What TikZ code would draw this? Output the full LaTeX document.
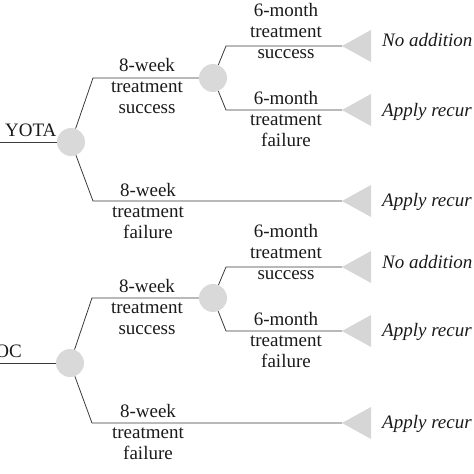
\documentclass[tikz,border=0pt]{standalone}
\usepackage{fontspec}
\setmainfont{Liberation Serif}
\definecolor{linec}{HTML}{3A3A3A}
\definecolor{nodefill}{HTML}{D9D9D9}
\definecolor{trifill}{HTML}{D6D6D6}
\definecolor{txt}{HTML}{1A1A1A}
\begin{document}
\begin{tikzpicture}[x=1pt,y=-1pt,
  conn/.style={draw=linec, line width=0.8pt},
  chance/.style={circle, fill=nodefill, minimum size=28pt, inner sep=0pt},
  lbl/.style={align=center, font=\fontsize{19}{21}\selectfont, text=txt, inner sep=0pt},
  outc/.style={anchor=base west, font=\fontsize{19}{21}\selectfont\itshape, text=txt, inner sep=0pt},
  arm/.style={anchor=base, font=\fontsize{19}{21}\selectfont, text=txt, inner sep=0pt},
  tri/.style={fill=trifill}]
\useasboundingbox (0,0) rectangle (474,474);

% ---------- upper tree ----------
\node[arm, anchor=base west] (armA) at (5,136) {YOTA};
\coordinate (sA) at (0,142);
\node[chance] (cA) at (71,142) {};
\coordinate (kA1) at (93,78);
\coordinate (kA2) at (93,201);
\node[chance] (cA2) at (213,78) {};
\coordinate (kA3) at (226,46);
\coordinate (kA4) at (226,110);
\coordinate (tA1) at (342,46);
\coordinate (tA2) at (342,110);
\coordinate (tA3) at (342,201);

\draw[conn] (sA) -- (cA);
\draw[conn] (cA) -- (kA1) -- (cA2);
\draw[conn] (cA) -- (kA2) -- (tA3);
\draw[conn] (cA2) -- (kA3) -- (tA1);
\draw[conn] (cA2) -- (kA4) -- (tA2);

\foreach \t in {tA1,tA2,tA3}
  \fill[tri] (\t) -- ++(29,-16) -- ++(0,32) -- cycle;

\node[lbl] (lA1) at (147,86) {8-week\\treatment\\success};
\node[lbl] (lA2) at (148,211) {8-week\\treatment\\failure};
\node[lbl] (lA3) at (286,31) {6-month\\treatment\\success};
\node[lbl] (lA4) at (286,118.5) {6-month\\treatment\\failure};

\node[outc] (oA1) at (382,46) {No addition};
\node[outc] (oA2) at (382,116) {Apply recur};
\node[outc] (oA3) at (382,206) {Apply recur};

% ---------- lower tree ----------
\node[arm, anchor=base east] (armB) at (22,357) {OC};
\coordinate (sB) at (0,363);
\node[chance] (cB) at (70,363) {};
\coordinate (kB1) at (92,298);
\coordinate (kB2) at (92,423);
\node[chance] (cB2) at (213,298) {};
\coordinate (kB3) at (226,267);
\coordinate (kB4) at (226,331);
\coordinate (tB1) at (342,267);
\coordinate (tB2) at (342,331);
\coordinate (tB3) at (342,423);

\draw[conn] (sB) -- (cB);
\draw[conn] (cB) -- (kB1) -- (cB2);
\draw[conn] (cB) -- (kB2) -- (tB3);
\draw[conn] (cB2) -- (kB3) -- (tB1);
\draw[conn] (cB2) -- (kB4) -- (tB2);

\foreach \t in {tB1,tB2,tB3}
  \fill[tri] (\t) -- ++(29,-16) -- ++(0,32) -- cycle;

\node[lbl] (lB1) at (147,307) {8-week\\treatment\\success};
\node[lbl] (lB2) at (148,432) {8-week\\treatment\\failure};
\node[lbl] (lB3) at (286,252) {6-month\\treatment\\success};
\node[lbl] (lB4) at (286,339.5) {6-month\\treatment\\failure};

\node[outc] (oB1) at (382,268) {No addition};
\node[outc] (oB2) at (382,336) {Apply recur};
\node[outc] (oB3) at (382,428) {Apply recur};
\end{tikzpicture}
\end{document}
